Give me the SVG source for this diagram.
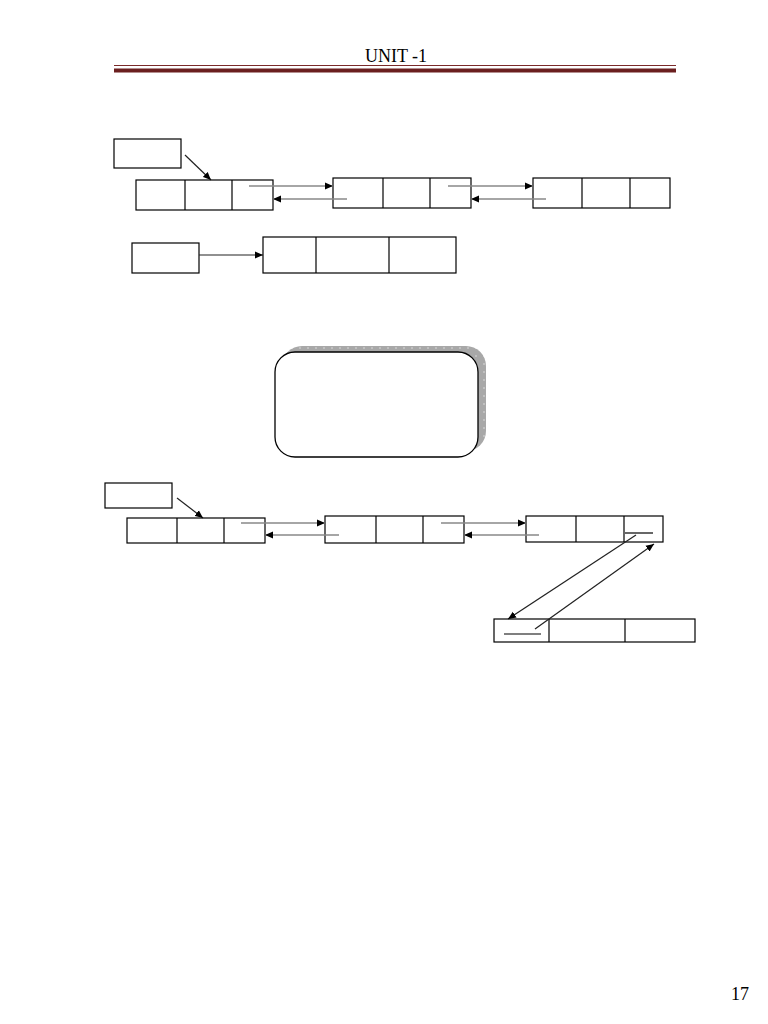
<svg xmlns="http://www.w3.org/2000/svg" width="768" height="1024" viewBox="0 0 768 1024">
<style>
.b{fill:#fff;stroke:#000;stroke-width:1.2}
.d{stroke:#000;stroke-width:1.2}
.c{stroke:#222;stroke-width:1.2;fill:none}
.g{stroke:#888;stroke-width:1.5;fill:none}
.t{font-family:"Liberation Serif",serif;fill:#000}
</style>
<defs>
<marker id="ah" markerWidth="8" markerHeight="8" refX="8" refY="4" orient="auto" markerUnits="userSpaceOnUse">
<path d="M0,0.5 L8,4 L0,7.5 Z" fill="#000"/>
</marker>
<pattern id="dots" width="8" height="8" patternUnits="userSpaceOnUse">
<rect width="8" height="8" fill="#a8a8a8"/>
<circle cx="4" cy="4" r="0.8" fill="#e0e0e0"/>
</pattern>
</defs>
<rect width="768" height="1024" fill="#fff"/>
<g id="header">
<text class="t" x="396" y="62" font-size="18" text-anchor="middle">UNIT -1</text>
<line x1="114" y1="65.5" x2="676" y2="65.5" stroke="#7a2a2a" stroke-width="1"/>
<rect x="114" y="68.5" width="562" height="4" fill="#6b1f1f"/>
</g>
<g id="top-head"><rect class="b" x="114" y="139" width="67" height="29"/></g>
<g id="top-n1"><rect class="b" x="136" y="180" width="137" height="30"/><line class="d" x1="185" y1="180" x2="185" y2="210"/><line class="d" x1="232" y1="180" x2="232" y2="210"/></g>
<g id="top-n2"><rect class="b" x="333" y="178" width="138" height="30"/><line class="d" x1="383" y1="178" x2="383" y2="208"/><line class="d" x1="430" y1="178" x2="430" y2="208"/></g>
<g id="top-n3"><rect class="b" x="533" y="178" width="137" height="30"/><line class="d" x1="582" y1="178" x2="582" y2="208"/><line class="d" x1="630" y1="178" x2="630" y2="208"/></g>
<g id="new-ptr"><rect class="b" x="132" y="243" width="67" height="30"/></g>
<g id="new-node"><rect class="b" x="263" y="237" width="193" height="36"/><line class="d" x1="316" y1="237" x2="316" y2="273"/><line class="d" x1="389" y1="237" x2="389" y2="273"/></g>
<g id="rounded">
<rect x="282" y="346" width="204" height="105" rx="20" fill="url(#dots)"/>
<rect x="275" y="352" width="203" height="105" rx="20" fill="#fff" stroke="#000" stroke-width="1.3"/>
</g>
<g id="bot-head"><rect class="b" x="105" y="483" width="67" height="25"/></g>
<g id="bot-n1"><rect class="b" x="127" y="518" width="138" height="25"/><line class="d" x1="177" y1="518" x2="177" y2="543"/><line class="d" x1="224" y1="518" x2="224" y2="543"/></g>
<g id="bot-n2"><rect class="b" x="325" y="516" width="139" height="27"/><line class="d" x1="376" y1="516" x2="376" y2="543"/><line class="d" x1="423" y1="516" x2="423" y2="543"/></g>
<g id="bot-n3"><rect class="b" x="526" y="516" width="137" height="26"/><line class="d" x1="576" y1="516" x2="576" y2="542"/><line class="d" x1="624" y1="516" x2="624" y2="542"/><line class="d" x1="625" y1="533" x2="653" y2="533"/></g>
<g id="bot-new"><rect class="b" x="494" y="619" width="201" height="23"/><line class="d" x1="549" y1="619" x2="549" y2="642"/><line class="d" x1="625" y1="619" x2="625" y2="642"/><line class="d" x1="504" y1="634" x2="541" y2="634"/></g>
<g id="connectors">
<line class="c" x1="185" y1="155" x2="211" y2="180" marker-end="url(#ah)"/>
<line class="g" x1="249" y1="186" x2="333" y2="186" marker-end="url(#ah)"/>
<line class="g" x1="347" y1="199" x2="273" y2="199" marker-end="url(#ah)"/>
<line class="g" x1="448" y1="186" x2="533" y2="186" marker-end="url(#ah)"/>
<line class="g" x1="546" y1="199" x2="471" y2="199" marker-end="url(#ah)"/>
<line class="c" x1="199" y1="255" x2="263" y2="255" marker-end="url(#ah)"/>
<line class="c" x1="177" y1="498" x2="203" y2="518" marker-end="url(#ah)"/>
<line class="g" x1="241" y1="523" x2="325" y2="523" marker-end="url(#ah)"/>
<line class="g" x1="339" y1="535" x2="265" y2="535" marker-end="url(#ah)"/>
<line class="g" x1="441" y1="523" x2="526" y2="523" marker-end="url(#ah)"/>
<line class="g" x1="539" y1="535" x2="464" y2="535" marker-end="url(#ah)"/>
<line class="c" x1="636" y1="535" x2="508" y2="619" marker-end="url(#ah)"/>
<line class="c" x1="535" y1="629" x2="654" y2="544" marker-end="url(#ah)"/>
</g>
<g id="footer"><text class="t" x="740" y="1000" font-size="18" text-anchor="middle">17</text></g>
</svg>
